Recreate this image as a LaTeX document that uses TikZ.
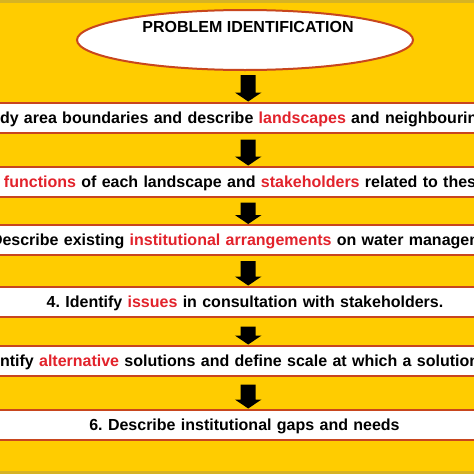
\documentclass[tikz,border=0pt]{standalone}
\usepackage{fontspec}
\setmainfont{Liberation Sans}
\usetikzlibrary{shapes.geometric,calc}
\definecolor{bgyellow}{HTML}{FFCC00}
\definecolor{edgeyellow}{HTML}{D6B324}
\definecolor{bordred}{HTML}{C8461E}
\definecolor{hlred}{HTML}{E2222B}
\newcommand{\redw}[1]{\textcolor{hlred}{#1}}
\frenchspacing
\tikzset{
  stepbox/.style={rectangle, draw=bordred, line width=2pt, fill=white,
    minimum height=30pt, inner ysep=0pt, inner xsep=20pt, outer sep=0pt,
    text width=1200pt, text height=11.5pt, text depth=0pt,
    font=\bfseries\fontsize{16}{19}\selectfont},
  leftbox/.style={stepbox, align=left, anchor=west},
  midbox/.style={stepbox, align=center},
  startell/.style={ellipse, draw=bordred, line width=2pt, fill=white,
    minimum width=336pt, minimum height=60pt, inner sep=0pt, outer sep=0pt,
    text height=12pt, text depth=27pt,
    font=\bfseries\fontsize{16}{19}\selectfont},
  blockarr/.style={fill=black}
}
\begin{document}
\begin{tikzpicture}[x=1pt,y=-1pt]
\useasboundingbox (0,0) rectangle (474,474);
\fill[bgyellow] (0,0) rectangle (474,474);
\fill[edgeyellow] (0,0) rectangle (474,3);
\fill[edgeyellow] (0,471) rectangle (474,474);

\node[startell] (t) at (245,40) {\hspace*{6pt}PROBLEM IDENTIFICATION};
\node[leftbox] (b1) at (-20,117.5) {dy area boundaries and describe \redw{landscapes} and neighbouring};
\node[leftbox] (b2) at (-16,181.5) {\redw{functions} of each landscape and \redw{stakeholders} related to these};
\node[leftbox] (b3) at (-29,240) {Describe existing \redw{institutional arrangements} on water management};
\node[midbox] (b4) at (245,301.5) {4. Identify \redw{issues} in consultation with stakeholders.};
\node[leftbox] (b5) at (-20,360.5) {ntify \redw{alternative} solutions and define scale at which a solution};
\node[midbox] (b6) at (244.5,424.5) {6. Describe institutional gaps and needs};

\foreach \a/\b/\g in {t/b1/5, b1/b2/7, b2/b3/6, b3/b4/6, b4/b5/10, b5/b6/9}{
  \fill[blockarr] let \p1=(\a.south), \p2=(\b.north) in
    (240.7pt,\y1-\g pt) -- (255.7pt,\y1-\g pt) -- (255.7pt,\y2+10pt)
    -- (261.5pt,\y2+10pt) -- (248.2pt,\y2+1pt) -- (234.9pt,\y2+10pt)
    -- (240.7pt,\y2+10pt) -- cycle;
}
\end{tikzpicture}
\end{document}
